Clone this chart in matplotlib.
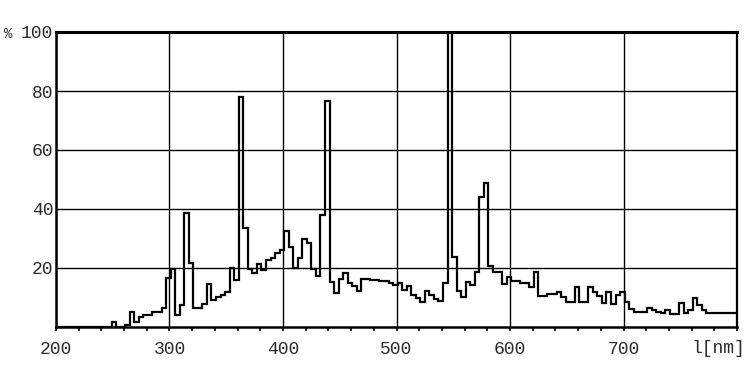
import numpy as np
import matplotlib
matplotlib.use("Agg")
import matplotlib.pyplot as plt
import matplotlib.transforms as mtransforms

# ---- data (4 nm bins, left edge labels) ----
bin_width = 4
bin_start = 201
intensity = [
    0, 0, 0, 0, 0, 0, 0, 0, 0, 0, 0, 0,            # 200-244
    1.8, 0, 0, 0.6, 5.0, 1.8, 3.5, 4.2, 4.2, 5.1,  # 248-284
    5.1, 6.5, 16.5, 19.6, 4.2, 7.4, 38.8, 21.6, 6.5, 6.5,  # 288-324
    7.9, 14.6, 9.2, 10.1, 11.0, 11.8, 19.9, 15.9, 77.9, 33.4,  # 328-364
    19.6, 18.4, 21.2, 19.3, 22.7, 23.5, 25.2, 26.1, 32.7, 27.2,  # 368-404
    20.1, 23.5, 29.7, 28.4, 19.6, 17.3, 38.0, 76.7, 15.4, 11.4,  # 408-444
    16.2, 18.4, 15.0, 13.9, 12.2, 16.3, 16.3, 15.9, 15.9, 15.6,  # 448-484
    15.6, 15.0, 14.2, 15.0, 12.5, 13.9, 10.8, 9.7, 8.4, 12.3,    # 488-524
    10.8, 9.4, 8.8, 14.8, 100.0, 23.7, 12.2, 10.2, 15.4, 14.3,   # 528-564
    18.8, 44.2, 48.9, 20.7, 18.8, 18.8, 14.6, 17.1, 15.7, 15.7,  # 568-604
    14.8, 14.8, 13.7, 18.8, 10.5, 10.5, 11.2, 11.2, 11.9, 10.1,  # 608-644
    8.6, 8.6, 13.6, 8.6, 8.6, 13.5, 12.0, 10.5, 8.1, 12.0,       # 648-684
    7.8, 11.0, 12.0, 8.5, 6.1, 5.2, 5.2, 5.2, 6.4, 5.8,          # 688-724
    5.2, 4.9, 5.8, 4.5, 4.5, 8.2, 4.8, 5.9, 10.0, 7.5,           # 728-764
    5.6, 4.8, 4.8, 4.8, 4.8, 4.8, 4.8, 4.8,                      # 768-796
]
x_ticks = [200, 300, 400, 500, 600, 700, 800]
x_tick_labels = ["200", "300", "400", "500", "600", "700", ""]
y_ticks = [20, 40, 60, 80, 100]
y_tick_labels = ["20", "40", "60", "80", "100"]
x_unit_label = "l[nm]"
y_unit_label = "%"

values = np.array(intensity, dtype=float)
edges = bin_start + bin_width * np.arange(len(values) + 1)

fig = plt.figure(figsize=(7.5, 3.79), dpi=100)
ax = fig.add_axes([56 / 750, 1 - 327 / 379, (737 - 56) / 750, (327 - 32) / 379])

ax.stairs(values, edges, baseline=None, color="black", linewidth=1.6, zorder=3)

ax.set_xlim(200, 800)
ax.set_ylim(0, 100)

ax.set_xticks(x_ticks)
ax.set_xticklabels(x_tick_labels)
ax.set_xticks(np.arange(200, 801, 20), minor=True)
ax.set_yticks(y_ticks)
ax.set_yticklabels(y_tick_labels)

ax.grid(True, color="black", linewidth=1.0)
ax.set_axisbelow(True)

font = dict(family=["Liberation Mono", "DejaVu Sans Mono"], size=13, color="#2a2a2a")
for lab in ax.get_xticklabels() + ax.get_yticklabels():
    lab.set_fontfamily(font["family"])
    lab.set_fontsize(font["size"])
    lab.set_color(font["color"])

ax.tick_params(axis="x", which="both", direction="out", length=3, width=1.2,
               color="black", pad=7)
ax.tick_params(axis="y", which="both", length=0, pad=2)

for side, lw in [("top", 2.2), ("left", 1.8), ("bottom", 1.8), ("right", 1.6)]:
    ax.spines[side].set_linewidth(lw)
    ax.spines[side].set_color("black")

trans = mtransforms.blended_transform_factory(ax.transData, ax.transAxes)
ax.text(807, -0.045, x_unit_label, transform=trans, ha="right", va="top",
        fontfamily=font["family"], fontsize=font["size"], color=font["color"])

fig.text(8.5 / 750, 1 - 34 / 379, y_unit_label, ha="center", va="center",
         fontfamily=font["family"], fontsize=10, color=font["color"])

fig.savefig("out.png", dpi=100)
